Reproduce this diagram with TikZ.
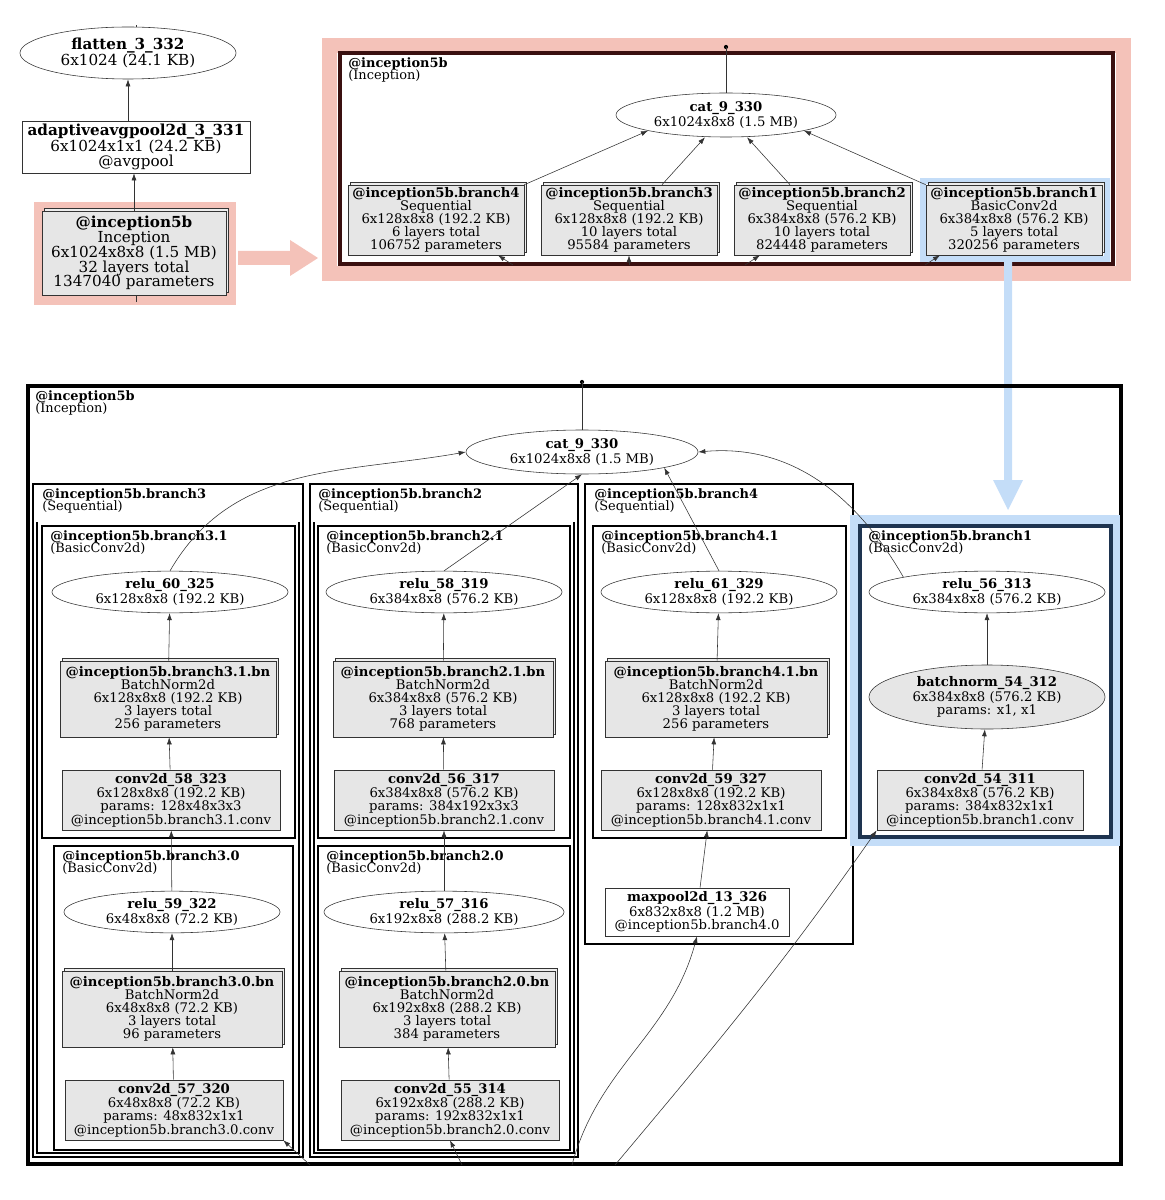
\documentclass[tikz,border=0pt]{standalone}
\usepackage{fontspec}
\setmainfont{DejaVu Serif}
\usetikzlibrary{shapes.geometric,shadows,arrows.meta}
\definecolor{hlpink}{HTML}{F4C2B9}
\definecolor{hlblue}{HTML}{C4DDF8}
\definecolor{boxgray}{HTML}{E6E6E6}
\definecolor{darkred}{HTML}{3A1010}
\definecolor{darkblue}{HTML}{1E3450}
\tikzset{
  txt/.style={font=\fontsize{9.4}{9.3}\selectfont, align=center, inner sep=1pt},
  big/.style={font=\fontsize{10.8}{10.6}\selectfont},
  ell/.style={txt, ellipse, draw=black!80, fill=white},
  op/.style={txt, rectangle, draw=black!80, fill=boxgray},
  mod/.style={txt, rectangle, draw=black!80, fill=boxgray,
    copy shadow={shadow xshift=0.06cm, shadow yshift=0.06cm, draw=black!80, fill=boxgray!70}},
  clu/.style={draw=black, line width=#1},
  clu/.default=1.6pt,
  lab/.style={font=\fontsize{9.2}{9}\selectfont, align=left, anchor=north west, inner sep=0pt},
  edge/.style={-{Latex[length=5pt,width=3.5pt]}, black!80, thin},
}
\begin{document}
\begin{tikzpicture}[x=0.025cm, y=-0.025cm]
\useasboundingbox (0,0) rectangle (1164,1200);

% top left chain
\draw[hlpink, line width=0.25cm] (39,207) rectangle (231,300);
\node[ell, big, minimum width=5.4cm, minimum height=1.3cm] (flat) at (128,53) {\textbf{flatten\_3\_332}\\6x1024 (24.1 KB)};
\node[txt, big, draw=black!80, minimum width=5.7cm, minimum height=1.3cm] (avg) at (136,147) {\textbf{adaptiveavgpool2d\_3\_331}\\6x1024x1x1 (24.2 KB)\\@avgpool};
\node[mod, big, minimum width=4.6cm, minimum height=2.1cm] (inc) at (134,253) {\textbf{@inception5b}\\Inception\\6x1024x8x8 (1.5 MB)\\32 layers total\\1347040 parameters};
\coordinate (flattop) at (136,25);
\coordinate (incbot) at (136,302);
\draw[black!80] (flat.north -| flattop) -- (flattop);
\draw[black!80] (inc.south -| incbot) -- (incbot);
\draw[edge] (avg.north -| flat.south) -- (flat.south);
\draw[edge] (inc.north) -- (avg.south -| inc.north);

% pink arrow
\fill[hlpink] (238,251) -- (290,251) -- (290,240) -- (318,258) -- (290,276) -- (290,265) -- (238,265) -- cycle;

% top right expansion
\draw[hlpink, line width=0.375cm] (329.5,45.5) rectangle (1123.5,273.5);
\draw[darkred, line width=2.2pt] (340,53) rectangle (1113,264);
\node[lab] at (348,57) {\textbf{@inception5b}\\(Inception)};
\node[ell, minimum width=5.5cm, minimum height=1.1cm] (cattop) at (726,115) {\textbf{cat\_9\_330}\\6x1024x8x8 (1.5 MB)};
\coordinate (cattopin) at (726,47);
\fill (cattopin) circle (1.5pt);
\draw[black!80] (cattopin) -- (cattop.north);
\draw[hlblue, line width=0.15cm] (923,181) rectangle (1107,259);
\node[mod, minimum width=4.4cm, minimum height=1.75cm] (b4) at (436,220) {\textbf{@inception5b.branch4}\\Sequential\\6x128x8x8 (192.2 KB)\\6 layers total\\106752 parameters};
\node[mod, minimum width=4.4cm, minimum height=1.75cm] (b3) at (629,220) {\textbf{@inception5b.branch3}\\Sequential\\6x128x8x8 (192.2 KB)\\10 layers total\\95584 parameters};
\node[mod, minimum width=4.4cm, minimum height=1.75cm] (b2) at (822,220) {\textbf{@inception5b.branch2}\\Sequential\\6x384x8x8 (576.2 KB)\\10 layers total\\824448 parameters};
\node[mod, minimum width=4.4cm, minimum height=1.75cm] (b1) at (1014,220) {\textbf{@inception5b.branch1}\\BasicConv2d\\6x384x8x8 (576.2 KB)\\5 layers total\\320256 parameters};
\draw[edge] (b4.north east) -- (cattop.south west);
\draw[edge] (b3.north -| 662,0) -- (cattop.south -| 705,0);
\draw[edge] (b2.north -| 790,0) -- (cattop.south -| 747,0);
\draw[edge] (b1.north west) -- (cattop.south east);
\foreach \n/\a/\b in {b4/513/498, b3/629/629, b2/745/760, b1/925/940}{
  \coordinate (\n in) at (\a,265);
  \draw[edge] (\n in) -- (\n.south -| \b,0);
}

% blue arrow
\fill[hlblue] (1004,262) -- (1012,262) -- (1012,480) -- (1023,480) -- (1008,510) -- (993,480) -- (1004,480) -- cycle;

% big expanded module
\draw[clu=2.4pt] (28,386) rectangle (1121,1164);
\node[lab] at (35,390) {\textbf{@inception5b}\\(Inception)};
\node[ell, minimum width=5.8cm, minimum height=1.1cm] (cat) at (582,452) {\textbf{cat\_9\_330}\\6x1024x8x8 (1.5 MB)};
\coordinate (catin) at (582,382);
\fill (catin) circle (1.5pt);
\draw[black!80] (catin) -- (cat.north);

% branch3
\draw[clu=2pt] (33,484) rectangle (303,1157);
\draw[clu=1pt] (37,522) -- (37,1153) -- (299,1153) -- (299,522);
\node[lab] at (42,488) {\textbf{@inception5b.branch3}\\(Sequential)};
\draw[clu] (42,526) rectangle (295,838);
\node[lab] at (50,530) {\textbf{@inception5b.branch3.1}\\(BasicConv2d)};
\draw[clu=2pt] (54,846) rectangle (293,1150);
\node[lab] at (62,850) {\textbf{@inception5b.branch3.0}\\(BasicConv2d)};
\node[ell, minimum width=5.9cm, minimum height=1.0cm] (r60) at (170,592) {\textbf{relu\_60\_325}\\6x128x8x8 (192.2 KB)};
\node[mod, minimum width=5.4cm, minimum height=1.9cm] (bn31) at (168,699) {\textbf{@inception5b.branch3.1.bn}\\BatchNorm2d\\6x128x8x8 (192.2 KB)\\3 layers total\\256 parameters};
\node[op, minimum width=5.45cm, minimum height=1.5cm] (c58) at (171,800) {\textbf{conv2d\_58\_323}\\6x128x8x8 (192.2 KB)\\params: 128x48x3x3\\@inception5b.branch3.1.conv};
\node[ell, minimum width=5.4cm, minimum height=1.0cm] (r59) at (172,912) {\textbf{relu\_59\_322}\\6x48x8x8 (72.2 KB)};
\node[mod, minimum width=5.5cm, minimum height=1.9cm] (bn30) at (172,1009) {\textbf{@inception5b.branch3.0.bn}\\BatchNorm2d\\6x48x8x8 (72.2 KB)\\3 layers total\\96 parameters};
\node[op, minimum width=5.45cm, minimum height=1.5cm] (c57) at (174,1110) {\textbf{conv2d\_57\_320}\\6x48x8x8 (72.2 KB)\\params: 48x832x1x1\\@inception5b.branch3.0.conv};

% branch2
\draw[clu=2pt] (310,484) rectangle (578,1157);
\draw[clu=1pt] (314,522) -- (314,1153) -- (574,1153) -- (574,522);
\node[lab] at (318,488) {\textbf{@inception5b.branch2}\\(Sequential)};
\draw[clu] (318,526) rectangle (570,838);
\node[lab] at (326,530) {\textbf{@inception5b.branch2.1}\\(BasicConv2d)};
\draw[clu=2pt] (318,846) rectangle (570,1150);
\node[lab] at (326,850) {\textbf{@inception5b.branch2.0}\\(BasicConv2d)};
\node[ell, minimum width=5.9cm, minimum height=1.0cm] (r58) at (444,592) {\textbf{relu\_58\_319}\\6x384x8x8 (576.2 KB)};
\node[mod, minimum width=5.5cm, minimum height=1.9cm] (bn21) at (443,699) {\textbf{@inception5b.branch2.1.bn}\\BatchNorm2d\\6x384x8x8 (576.2 KB)\\3 layers total\\768 parameters};
\node[op, minimum width=5.5cm, minimum height=1.5cm] (c56) at (444,800) {\textbf{conv2d\_56\_317}\\6x384x8x8 (576.2 KB)\\params: 384x192x3x3\\@inception5b.branch2.1.conv};
\node[ell, minimum width=6.0cm, minimum height=1.0cm] (r57) at (444,912) {\textbf{relu\_57\_316}\\6x192x8x8 (288.2 KB)};
\node[mod, minimum width=5.4cm, minimum height=1.9cm] (bn20) at (447,1009) {\textbf{@inception5b.branch2.0.bn}\\BatchNorm2d\\6x192x8x8 (288.2 KB)\\3 layers total\\384 parameters};
\node[op, minimum width=5.45cm, minimum height=1.5cm] (c55) at (450,1110) {\textbf{conv2d\_55\_314}\\6x192x8x8 (288.2 KB)\\params: 192x832x1x1\\@inception5b.branch2.0.conv};

% branch4
\draw[clu=2pt] (585,484) rectangle (853,944);
\node[lab] at (594,488) {\textbf{@inception5b.branch4}\\(Sequential)};
\draw[clu] (593,526) rectangle (846,838);
\node[lab] at (601,530) {\textbf{@inception5b.branch4.1}\\(BasicConv2d)};
\node[ell, minimum width=5.9cm, minimum height=1.0cm] (r61) at (719,592) {\textbf{relu\_61\_329}\\6x128x8x8 (192.2 KB)};
\node[mod, minimum width=5.55cm, minimum height=1.9cm] (bn41) at (716,699) {\textbf{@inception5b.branch4.1.bn}\\BatchNorm2d\\6x128x8x8 (192.2 KB)\\3 layers total\\256 parameters};
\node[op, minimum width=5.5cm, minimum height=1.5cm] (c59) at (711,800) {\textbf{conv2d\_59\_327}\\6x128x8x8 (192.2 KB)\\params: 128x832x1x1\\@inception5b.branch4.1.conv};
\node[txt, draw=black!80, minimum width=4.6cm, minimum height=1.2cm] (mp) at (697,912) {\textbf{maxpool2d\_13\_326}\\6x832x8x8 (1.2 MB)\\@inception5b.branch4.0};

% branch1
\draw[hlblue, line width=0.25cm] (855,520) rectangle (1115,841);
\draw[darkblue, line width=2.4pt] (860,526) rectangle (1111,837);
\node[lab] at (868,530) {\textbf{@inception5b.branch1}\\(BasicConv2d)};
\node[ell, minimum width=5.9cm, minimum height=1.0cm] (r56) at (987,592) {\textbf{relu\_56\_313}\\6x384x8x8 (576.2 KB)};
\node[ell, fill=boxgray, minimum width=5.9cm, minimum height=1.6cm] (bn54) at (987,697) {\textbf{batchnorm\_54\_312}\\6x384x8x8 (576.2 KB)\\params: x1, x1};
\node[op, minimum width=5.15cm, minimum height=1.5cm] (c54) at (980,800) {\textbf{conv2d\_54\_311}\\6x384x8x8 (576.2 KB)\\params: 384x832x1x1\\@inception5b.branch1.conv};

% edges inside
\foreach \a/\b in {bn31/r60, c58/bn31, bn30/r59, c57/bn30, bn21/r58, c56/bn21, bn20/r57, c55/bn20, bn41/r61, c59/bn41, bn54/r56, c54/bn54}{
  \draw[edge] (\a) -- (\b);
}
\draw[edge] (r59) -- (c58);
\draw[edge] (r57) -- (c56);
\draw[edge] (mp) -- (c59);
\draw[edge] (r60.north) to[out=60, in=190] (cat.west);
\draw[edge] (r58.north) -- (cat.south);
\draw[edge] (r61.north) -- (cat.south east);
\draw[edge] (r56.north west) to[out=120, in=5] (cat.east);

% inputs from below
\coordinate (in57) at (310,1165);
\coordinate (in55) at (462,1165);
\coordinate (inmp) at (572,1165);
\coordinate (in54) at (615,1165);
\draw[edge] (in57) -- (c57.south east);
\draw[edge] (in55) -- (c55.south);
\draw[edge] (inmp) to[out=75, in=-105] (mp.south);
\draw[edge] (in54) to[out=50, in=-125] (c54.south west);
\end{tikzpicture}
\end{document}
